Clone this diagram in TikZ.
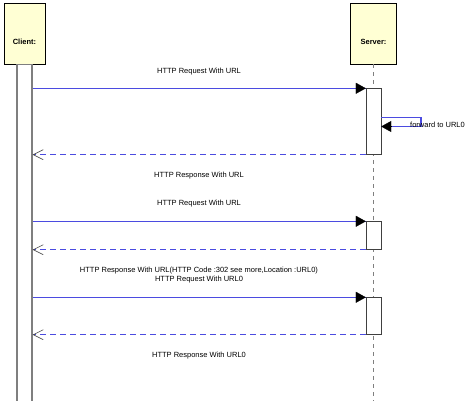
\documentclass[tikz,border=0pt]{standalone}
\usepackage{fontspec}
\setmainfont{Liberation Sans}
\usetikzlibrary{arrows.meta,positioning,calc}
\definecolor{seqBlue}{HTML}{4B4BE0}
\definecolor{seqHead}{HTML}{FFFFD4}
\definecolor{seqGray}{HTML}{7F7F7F}

\begin{document}
\begin{tikzpicture}[
    x=1pt, y=-1pt,
    every node/.style={font=\fontsize{7.5}{8.5}\selectfont, align=center, inner sep=0pt},
    head/.style={draw=black, fill=seqHead, minimum width=41pt, minimum height=61pt, text height=24pt, text depth=2pt, font=\bfseries\fontsize{7.5}{8.5}\selectfont},
    bar/.style={draw=black!75, fill=white, minimum width=15pt},
    lifeline/.style={draw=seqGray, line width=1.1pt, dash pattern=on 4pt off 4pt},
    call/.style={draw=seqBlue, line width=1.1pt},
    reply/.style={draw=seqBlue, line width=1.1pt, dash pattern=on 6pt off 4pt},
    calltip/.style={draw=black, line width=0.2pt, -{Triangle[length=10pt,width=11pt]}},
    replytip/.style={draw=black!70, line width=0.6pt, -{Straight Barb[length=10pt,width=10pt]}}
  ]
    \useasboundingbox (0,0) rectangle (474,401);

    % participants
    \node[head] (client) at (24.5,33.5) {Client:};
    \node[head, minimum width=46pt] (server) at (373.5,33.5) {Server:};
    \coordinate (srvend) at (373.5,401);
    \draw[lifeline] (server.south) -- (srvend);
    \node[bar, draw=seqGray, line width=1.2pt, anchor=north, minimum height=340pt] (clientbar) at (client.south) {};

    % activations on the server
    \node[bar, minimum height=66pt] (act1) at (373.5,121.5) {};
    \node[bar, minimum height=28pt] (act2) at (373.5,235.5) {};
    \node[bar, minimum height=37pt] (act3) at (373.5,316) {};

    % messages
    \coordinate (fwdA) at (421,117.5);
    \coordinate (fwdB) at (421,126.5);
    \draw[call] (clientbar.east |- act1.north) -- (act1.north west);
    \draw[call] (act1.east |- fwdA) -- (fwdA) -- (fwdB) -- (act1.east |- fwdB);
    \draw[reply] (act1.south west) -- (clientbar.east |- act1.south);
    \draw[call] (clientbar.east |- act2.north) -- (act2.north west);
    \draw[reply] (act2.south west) -- (clientbar.east |- act2.south);
    \draw[call] (clientbar.east |- act3.north) -- (act3.north west);
    \draw[reply] (act3.south west) -- (clientbar.east |- act3.south);

    % arrow heads
    \foreach \a in {act1,act2,act3} {
      \draw[calltip] ($(\a.north west)+(-10,0)$) -- (\a.north west);
      \draw[replytip] ($(clientbar.east |- \a.south)+(1,0)$) -- (clientbar.east |- \a.south);
    }
    \draw[calltip] ($(act1.east |- fwdB)+(10,0)$) -- (act1.east |- fwdB);

    % labels
    \node (req1) at (199,71.5) {HTTP Request With URL};
    \node[anchor=west] (fwd) at (410,124.5) {forward to URL0};
    \node (resp1) at (199,176) {HTTP Response With URL};
    \node (req2) at (199,204) {HTTP Request With URL};
    \node (resp2) at (199,271) {HTTP Response With URL(HTTP Code :302 see more,Location :URL0)};
    \node (req3) at (199,280) {HTTP Request With URL0};
    \node (resp3) at (199,356) {HTTP Response With URL0};
\end{tikzpicture}
\end{document}
